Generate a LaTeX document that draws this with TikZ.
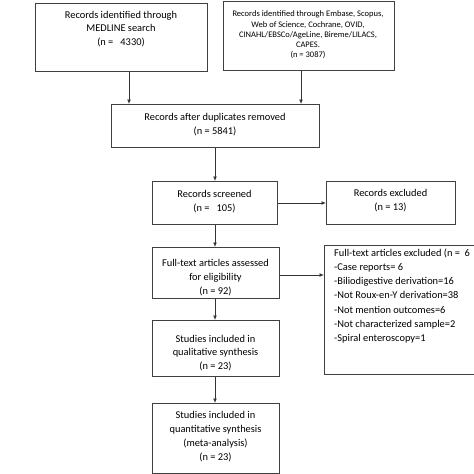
\documentclass[tikz,border=0pt]{standalone}
\usepackage{fontspec}
\setmainfont{Carlito}
\usetikzlibrary{arrows.meta}
\begin{document}
\begin{tikzpicture}[x=1pt,y=-1pt,
 box/.style={draw=black!75,line width=1.1pt,inner sep=0pt,anchor=north west},
 txt/.style={align=center,font=\fontsize{10.4}{13.8}\selectfont,text=black,inner sep=0pt},
 small/.style={align=center,font=\fontsize{8.5}{10.3}\selectfont,text=black,inner sep=0pt},
 list/.style={align=left,anchor=west,font=\fontsize{10.4}{14.3}\selectfont,text=black,inner sep=0pt},
 arr/.style={-{Latex[length=4.5pt,width=4pt]},draw=black!80,line width=1pt}]
\useasboundingbox (0,0) rectangle (474,474);
\fill[white] (0,0) rectangle (474,474);
\clip (0,0) rectangle (474,474);
% boxes
\node[box,minimum width=172pt,minimum height=68pt] (a) at (35,3) {};
\node[box,minimum width=171pt,minimum height=69pt] (b) at (223,1) {};
\node[box,minimum width=208pt,minimum height=43pt] (c) at (111,104) {};
\node[box,minimum width=125pt,minimum height=43pt] (d) at (152,181) {};
\node[box,minimum width=129pt,minimum height=43pt] (e) at (326,181) {};
\node[box,minimum width=127pt,minimum height=51pt] (f) at (152,247) {};
\node[box,minimum width=170pt,minimum height=129pt] (i) at (324,245) {};
\node[box,minimum width=127pt,minimum height=56pt] (g) at (152,320) {};
\node[box,minimum width=127pt,minimum height=70pt] (h) at (152,403) {};
% texts
\node[txt] (at) at (121,29) {Records identified through\\MEDLINE search\\(n =\ \ \ 4330)};
\node[small] (bt) at (308,35) {Records identified through Embase, Scopus,\\Web of Science, Cochrane, OVID,\\CINAHL/EBSCo/AgeLine, Bireme/LILACS,\\CAPES.\\(n = 3087)};
\node[txt] (ct) at (215,124.5) {Records after duplicates removed\\(n = 5841)};
\node[txt] (dt) at (214.5,201.5) {Records screened\\(n =\ \ \ 105)};
\node[txt] (et) at (390.5,200.5) {Records excluded\\(n = 13)};
\node[txt] (ft) at (215.5,277.5) {Full-text articles assessed\\for eligibility\\(n = 92)};
\node[txt] (gt) at (215.5,353) {Studies included in\\qualitative synthesis\\(n = 23)};
\node[txt] (ht) at (215.5,436.5) {Studies included in\\quantitative synthesis\\(meta-analysis)\\(n = 23)};
\node[list] (it) at (334,296) {Full-text articles excluded (n =\ \ 6\\-Case reports= 6\\-Biliodigestive derivation=16\\-Not Roux-en-Y derivation=38\\-Not mention outcomes=6\\-Not characterized sample=2\\-Spiral enteroscopy=1};
% arrows
\draw[arr] (a.south -| 129,0) -- (c.north -| 129,0);
\draw[arr] (b.south -| 301,0) -- (c.north -| 301,0);
\draw[arr] (c.south -| 215,0) -- (d.north -| 215,0);
\draw[arr] (d.east |- 0,203) -- (e.west |- 0,203);
\draw[arr] (d.south -| 215,0) -- (f.north -| 215,0);
\draw[arr] (f.east |- 0,275) -- (i.west |- 0,275);
\draw[arr] (f.south -| 215,0) -- (g.north -| 215,0);
\draw[arr] (g.south -| 215,0) -- (h.north -| 215,0);
\end{tikzpicture}
\end{document}
